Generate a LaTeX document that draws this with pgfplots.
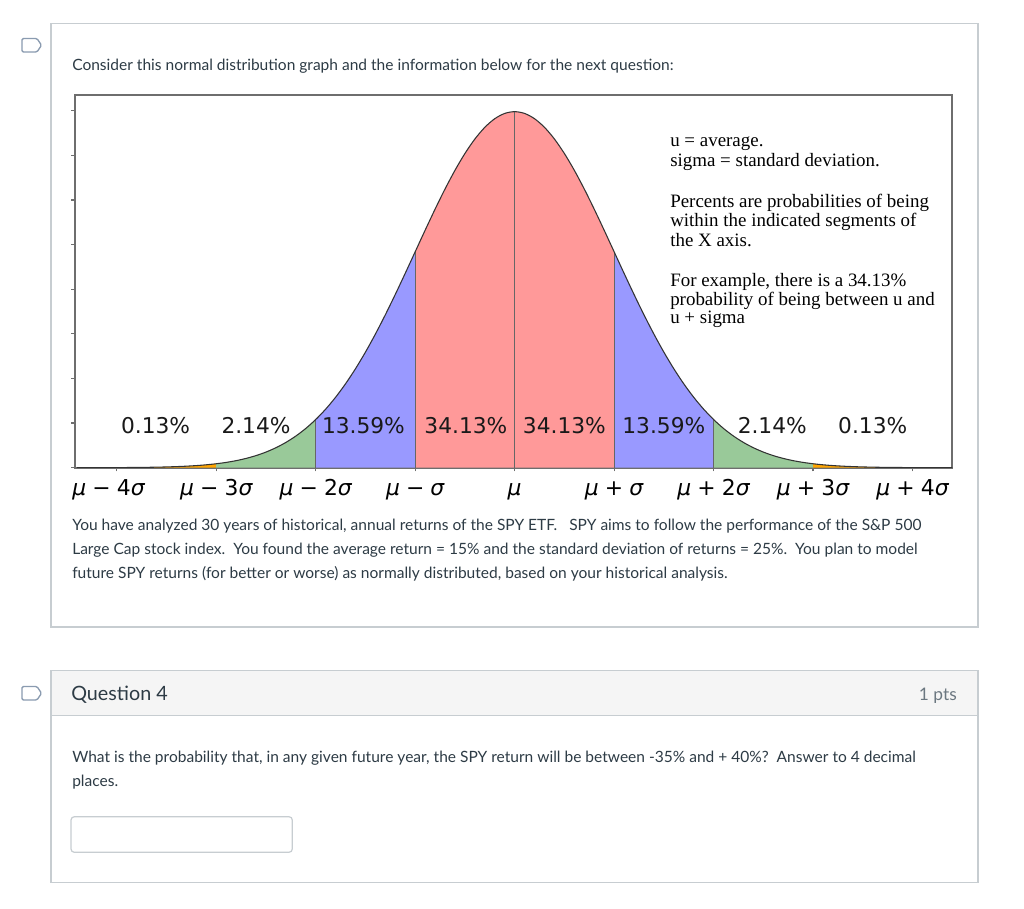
\documentclass[border=0pt]{standalone}
\usepackage{fontspec}
\setmainfont{Lato}
\newfontfamily\timesf{Liberation Serif}
\newfontfamily\dejavu{DejaVu Sans}
\usepackage{pgfplots}
\pgfplotsset{compat=1.18}
\usepackage{pgfplotstable}
\definecolor{txt}{HTML}{2D3B45}
\definecolor{txtlight}{HTML}{6B7780}
\definecolor{bord}{HTML}{C7CDD1}
\definecolor{flag}{HTML}{8A9BB0}
\definecolor{hdr}{HTML}{F5F5F5}
\definecolor{spine}{HTML}{6E6E6E}
\definecolor{cred}{HTML}{FF9999}
\definecolor{cblue}{HTML}{9999FF}
\definecolor{cgreen}{HTML}{99C999}
\definecolor{corange}{HTML}{FFA500}
\pgfplotstableread{
x y
-4.4 0.0000249
-4.3 0.0000385
-4.2 0.0000589
-4.1 0.0000893
-4.0 0.000134
-3.9 0.000199
-3.8 0.000292
-3.7 0.000425
-3.6 0.000612
-3.5 0.000873
-3.4 0.001232
-3.3 0.001723
-3.2 0.002384
-3.1 0.003267
-3.0 0.004432
-2.9 0.005953
-2.8 0.007915
-2.7 0.010421
-2.6 0.013583
-2.5 0.017528
-2.4 0.022395
-2.3 0.028327
-2.2 0.035475
-2.1 0.043984
-2.0 0.053991
-1.9 0.065616
-1.8 0.078950
-1.7 0.094049
-1.6 0.110921
-1.5 0.129518
-1.4 0.149727
-1.3 0.171369
-1.2 0.194186
-1.1 0.217852
-1.0 0.241971
-0.9 0.266085
-0.8 0.289692
-0.7 0.312254
-0.6 0.333225
-0.5 0.352065
-0.4 0.368270
-0.3 0.381388
-0.2 0.391043
-0.1 0.396953
0.0 0.398942
0.1 0.396953
0.2 0.391043
0.3 0.381388
0.4 0.368270
0.5 0.352065
0.6 0.333225
0.7 0.312254
0.8 0.289692
0.9 0.266085
1.0 0.241971
1.1 0.217852
1.2 0.194186
1.3 0.171369
1.4 0.149727
1.5 0.129518
1.6 0.110921
1.7 0.094049
1.8 0.078950
1.9 0.065616
2.0 0.053991
2.1 0.043984
2.2 0.035475
2.3 0.028327
2.4 0.022395
2.5 0.017528
2.6 0.013583
2.7 0.010421
2.8 0.007915
2.9 0.005953
3.0 0.004432
3.1 0.003267
3.2 0.002384
3.3 0.001723
3.4 0.001232
3.5 0.000873
3.6 0.000612
3.7 0.000425
3.8 0.000292
3.9 0.000199
4.0 0.000134
4.1 0.0000893
4.2 0.0000589
4.3 0.0000385
4.4 0.0000249
}\curve
\newcommand\mmu{{\itshape μ}}
\newcommand\sg{{\itshape σ}}
\newcommand\op[1]{\hspace{0.28em}#1\hspace{0.28em}}
\begin{document}
\begin{tikzpicture}
\begin{scope}[x=0.75pt,y=-0.75pt]
\fill[white] (0,0) rectangle (1024,908);
% box 1
\draw[bord, line width=0.9pt] (51,23.3) rectangle (978,627);
\draw[flag, line width=1pt, rounded corners=1pt] (22,38.5) -- (37,38.5) -- (41.5,45.3) -- (37,52) -- (22,52) -- cycle;
\begin{scope}[every node/.style={anchor=base west, inner sep=0pt, text=txt, font=\fontsize{11.65}{14}\selectfont}]
\node at (72,70.7) {Consider this normal distribution graph and the information below for the next question:};
\node at (72,530) {You have analyzed 30 years of historical, annual returns of the SPY ETF.\ \ \ SPY aims to follow the performance of the S\&P 500};
\node at (72,554) {Large Cap stock index.\ \ You found the average return = 15\% and the standard deviation of returns = 25\%.\ \ You plan to model};
\node at (72,578) {future SPY returns (for better or worse) as normally distributed, based on your historical analysis.};
\node at (72,762) {What is the probability that, in any given future year, the SPY return will be between -35\% and + 40\%?\ \ Answer to 4 decimal};
\node at (72,786) {places.};
\end{scope}
% box 2
\fill[hdr] (51,670.7) rectangle (978,715.3);
\draw[bord, line width=0.9pt] (51,670.7) rectangle (978,882.7);
\draw[bord, line width=0.9pt] (51,715.3) -- (978,715.3);
\draw[flag, line width=1pt, rounded corners=1pt] (22,686.5) -- (37,686.5) -- (41.5,693.3) -- (37,700) -- (22,700) -- cycle;
\node[anchor=base west, inner sep=0pt, text=txt, font=\fontsize{14.8}{17}\selectfont] at (71,700) {Question 4};
\node[anchor=base east, inner sep=0pt, text=txtlight, font=\fontsize{13}{15}\selectfont] at (957,700) {1 pts};
\draw[bord, line width=0.9pt, rounded corners=2.5pt] (71,816.7) rectangle (292.3,852.3);
% annotation in chart
\begin{scope}[every node/.style={anchor=base west, inner sep=0pt, text=black, font=\timesf\fontsize{14.2}{16}\selectfont}]
\node at (670,146.7) {u = average.};
\node at (670,166.7) {sigma = standard deviation.};
\node at (670,207.3) {Percents are probabilities of being};
\node at (670,226.7) {within the indicated segments of};
\node at (670,246) {the X axis.};
\node at (670,286.7) {For example, there is a 34.13\%};
\node at (670,305.3) {probability of being between u and};
\node at (670,323.8) {u + sigma};
\end{scope}
\end{scope}
\begin{axis}[
  at={(56.25pt,-350.775pt)}, anchor=south west,
  scale only axis, width=657.975pt, height=279.525pt,
  xmin=-4.42, xmax=4.40, ymin=0, ymax=0.4176,
  axis line style={draw=spine, line width=1.4pt},
  tick pos=left, tick align=outside, major tick length=2.8pt,
  tick style={draw=spine, line width=0.9pt},
  xtick={-4,-3,-2,-1,0,1,2,3,4},
  xticklabels={\mmu\op{−}4\sg\hspace*{0.75em}, \mmu\op{−}3\sg, \mmu\op{−}2\sg, \mmu\op{−}\sg, \mmu, \mmu\op{+}\sg, \mmu\op{+}2\sg, \mmu\op{+}3\sg, \mmu\op{+}4\sg},
  xticklabel style={font=\dejavu\fontsize{16.4}{19}\selectfont, anchor=base, inner sep=0pt, yshift=-17.7pt, text=black},
  ytick={0,0.05,0.1,0.15,0.2,0.25,0.3,0.35,0.4},
  yticklabels={},
]
\addplot[fill=corange, draw=none] table[restrict x to domain=-4:-3] \curve \closedcycle;
\addplot[fill=cgreen, draw=none] table[restrict x to domain=-3:-2] \curve \closedcycle;
\addplot[fill=cblue, draw=none] table[restrict x to domain=-2:-1] \curve \closedcycle;
\addplot[fill=cred, draw=none] table[restrict x to domain=-1:1] \curve \closedcycle;
\addplot[fill=cblue, draw=none] table[restrict x to domain=1:2] \curve \closedcycle;
\addplot[fill=cgreen, draw=none] table[restrict x to domain=2:3] \curve \closedcycle;
\addplot[fill=corange, draw=none] table[restrict x to domain=3:4] \curve \closedcycle;
\addplot[draw=black!60, line width=0.7pt] coordinates {(-2,0) (-2,0.053991)};
\addplot[draw=black!60, line width=0.7pt] coordinates {(-1,0) (-1,0.241971)};
\addplot[draw=black!60, line width=0.7pt] coordinates {(0,0) (0,0.398942)};
\addplot[draw=black!60, line width=0.7pt] coordinates {(1,0) (1,0.241971)};
\addplot[draw=black!60, line width=0.7pt] coordinates {(2,0) (2,0.053991)};
\addplot[draw=black!80, line width=0.8pt, smooth] table \curve;
\begin{scope}[every node/.style={anchor=base, inner sep=0pt, text=black!90, font=\dejavu\fontsize{16.3}{19}\selectfont}]
\node at (axis cs:-3.61,0.0385) {0.13\%};
\node at (axis cs:-2.60,0.0385) {2.14\%};
\node at (axis cs:-1.52,0.0385) {13.59\%};
\node at (axis cs:-0.49,0.0385) {34.13\%};
\node at (axis cs:0.50,0.0385) {34.13\%};
\node at (axis cs:1.50,0.0385) {13.59\%};
\node at (axis cs:2.59,0.0385) {2.14\%};
\node at (axis cs:3.60,0.0385) {0.13\%};
\end{scope}
\end{axis}
\end{tikzpicture}
\end{document}
